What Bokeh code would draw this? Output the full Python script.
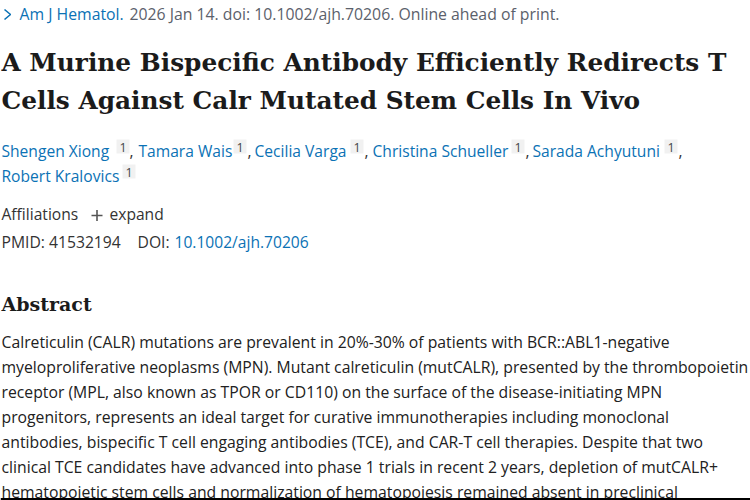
from bokeh.plotting import figure
from bokeh.models import ColumnDataSource
from bokeh.core.properties import value
from bokeh.embed import file_html
from bokeh.resources import INLINE

SANS = "Open Sans"
SERIF = "DejaVu Serif"
BLUE, GREY, DARK, INK = "#0b72b5", "#5b616b", "#212121", "#212121"

citation_link = ["Am J Hematol."]
citation_rest = ["2026 Jan 14. doi: 10.1002/ajh.70206. Online ahead of print."]
title_lines = ["A Murine Bispecific Antibody Efficiently Redirects T",
               "Cells Against Calr Mutated Stem Cells In Vivo"]
authors = ["Shengen Xiong", "Tamara Wais", "Cecilia Varga", "Christina Schueller",
           "Sarada Achyutuni", "Robert Kralovics"]
author_x = [1, 138, 254, 372, 532, 1]
author_y = [150, 150, 150, 150, 150, 175]
sup_x = [116, 233, 350, 511, 664, 122]
sup_y = [139, 139, 139, 139, 139, 164]
comma_x = [129, 247, 364, 525, 678]
abstract_lines = [
    "Calreticulin (CALR) mutations are prevalent in 20%-30% of patients with BCR::ABL1-negative",
    "myeloproliferative neoplasms (MPN). Mutant calreticulin (mutCALR), presented by the thrombopoietin",
    "receptor (MPL, also known as TPOR or CD110) on the surface of the disease-initiating MPN",
    "progenitors, represents an ideal target for curative immunotherapies including monoclonal",
    "antibodies, bispecific T cell engaging antibodies (TCE), and CAR-T cell therapies. Despite that two",
    "clinical TCE candidates have advanced into phase 1 trials in recent 2 years, depletion of mutCALR+",
    "hematopoietic stem cells and normalization of hematopoiesis remained absent in preclinical",
]
abstract_y = [341, 366, 391, 416, 441, 466, 491]

p = figure(width=750, height=500, x_range=(0, 750), y_range=(500, 0),
           output_backend="svg", toolbar_location=None, min_border=0,
           background_fill_color="white", border_fill_color="white")
p.axis.visible = False
p.grid.visible = False
p.outline_line_color = None


def put(x, y, text, size, color=DARK, font=SANS, style="normal", align="left"):
    src = ColumnDataSource(dict(x=x, y=y, text=text))
    p.text("x", "y", "text", source=src, text_font=value(font), text_font_size=size,
           text_color=color, text_font_style=style, text_baseline="alphabetic",
           text_align=align)


# superscript chips
p.quad(left=sup_x, right=[v + 13 for v in sup_x], top=sup_y, bottom=[v + 14 for v in sup_y],
       fill_color="#f1f1f1", line_color=None)

# chevron, plus
p.line([4, 10, 4], [9, 14, 19], line_color=BLUE, line_width=1.6)
p.line([91, 102], [215, 215], line_color="#555555", line_width=1.6)
p.line([96.5, 96.5], [209.5, 220.5], line_color="#555555", line_width=1.6)

put([19], [13], citation_link, "15.8px", BLUE)
put([129], [13], citation_rest, "15.8px", GREY)
put([1, 1], [62, 100], title_lines, "24.8px", "#1b1b1b", SERIF, "bold")
put(author_x, author_y, authors, "15.6px", BLUE)
put([v + 6.5 for v in sup_x], [v + 8 for v in sup_y], ["1"] * 6, "12.5px", "#444444", align="center")
put(comma_x, [150] * 5, [","] * 5, "15.6px", "#333333")
put([1, 109], [213, 213], ["Affiliations", "expand"], "15.6px", "#333333")
put([1, 137], [241, 241], ["PMID: 41532194", "DOI:"], "15.7px", "#333333")
put([174], [241], ["10.1002/ajh.70206"], "15.6px", BLUE)
put([1], [303], ["Abstract"], "19px", "#1b1b1b", SERIF, "bold")
put([1] * 7, abstract_y, abstract_lines, "15.75px", INK)

# window edge at the bottom
p.quad(left=[0], right=[750], top=[497.5], bottom=[500], fill_color="black", line_color=None)

open("out.html", "w").write(file_html(p, INLINE))
